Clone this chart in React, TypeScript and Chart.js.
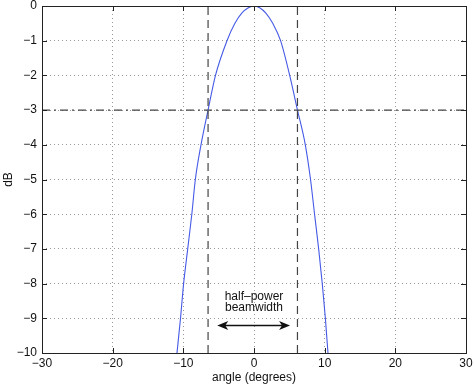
import React, { useEffect, useRef } from "react";
import { Chart, registerables } from "chart.js";

Chart.register(...registerables);

// Beam pattern (angle in degrees, gain in dB)
const curveAngles = [-11.15, -10.9, -10.4, -9.96, -9.38, -8.8, -8.3, -7.5, -6.5, -5.45, -3.82, -2.7, -1.7, -0.8, 0, 0.8, 1.65, 2.65, 3.76, 5.05, 6.15, 7.26, 8.0, 8.57, 9.15, 9.66, 10.1, 10.47, 10.7];
const curveDb = [-10.5, -10, -9, -8, -7, -6, -5, -4, -3, -2, -1, -0.5, -0.2, -0.05, 0, -0.05, -0.2, -0.5, -1, -2, -3, -4, -5, -6, -7, -8, -9, -10, -10.5];

// Half-power markers
const halfPowerAngles = [-6.5, 6.15];
const halfPowerDb = -3;

// Axis ranges / ticks
const xTicks = [-30, -20, -10, 0, 10, 20, 30];
const yTicks = [0, -1, -2, -3, -4, -5, -6, -7, -8, -9, -10];

// Annotation
const annotationLines = ["half\u2013power", "beamwidth"];
const annotationAngle = 0;
const annotationDb = [-8.37, -8.7];
const arrowAngles = [-5.2, 5.1];
const arrowDb = -9.2;

const xTitle = "angle (degrees)";
const yTitle = "dB";

const fmt = (v: number) => (v < 0 ? "\u2212" + Math.abs(v) : String(v));

export default function App() {
  const ref = useRef<HTMLCanvasElement | null>(null);
  useEffect(() => {
    document.body.style.margin = "0";
    const canvas = ref.current!;
    const font = "Liberation Sans, Arial, Helvetica, sans-serif";

    const framePlugin = {
      id: "frame",
      afterDraw(chart: any) {
        const ctx = chart.ctx as CanvasRenderingContext2D;
        const { left, right, top, bottom } = chart.chartArea;
        const xs = chart.scales.x;
        const ys = chart.scales.y;
        ctx.save();
        ctx.strokeStyle = "#222";
        ctx.lineWidth = 1;
        ctx.setLineDash([]);
        ctx.strokeRect(Math.round(left) + 0.5, Math.round(top) + 0.5, Math.round(right - left), Math.round(bottom - top));
        const tl = 5;
        ctx.beginPath();
        xTicks.forEach((v) => {
          const px = Math.round(xs.getPixelForValue(v)) + 0.5;
          ctx.moveTo(px, bottom);
          ctx.lineTo(px, bottom - tl);
          ctx.moveTo(px, top);
          ctx.lineTo(px, top + tl);
        });
        yTicks.forEach((v) => {
          const py = Math.round(ys.getPixelForValue(v)) + 0.5;
          ctx.moveTo(left, py);
          ctx.lineTo(left + tl, py);
          ctx.moveTo(right, py);
          ctx.lineTo(right - tl, py);
        });
        ctx.stroke();

        // axis titles
        ctx.fillStyle = "#111";
        ctx.font = "12px " + font;
        ctx.textAlign = "center";
        ctx.textBaseline = "middle";
        ctx.fillText(xTitle, (left + right) / 2, 378);
        ctx.save();
        ctx.translate(9, (top + bottom) / 2);
        ctx.rotate(-Math.PI / 2);
        ctx.fillText(yTitle, 0, 0);
        ctx.restore();

        // annotation
        const ax = xs.getPixelForValue(annotationAngle);
        annotationLines.forEach((t, i) => {
          ctx.fillText(t, ax, ys.getPixelForValue(annotationDb[i]));
        });
        const x1 = xs.getPixelForValue(arrowAngles[0]);
        const x2 = xs.getPixelForValue(arrowAngles[1]);
        const ay = Math.round(ys.getPixelForValue(arrowDb)) + 0.5;
        ctx.strokeStyle = "#111";
        ctx.lineWidth = 1.3;
        ctx.beginPath();
        ctx.moveTo(x1 + 4, ay);
        ctx.lineTo(x2 - 4, ay);
        ctx.stroke();
        ctx.fillStyle = "#111";
        const head = (tip: number, dir: number) => {
          ctx.beginPath();
          ctx.moveTo(tip, ay);
          ctx.lineTo(tip - dir * 11, ay - 4.5);
          ctx.lineTo(tip - dir * 8, ay);
          ctx.lineTo(tip - dir * 11, ay + 4.5);
          ctx.closePath();
          ctx.fill();
        };
        head(x1, -1);
        head(x2, 1);
        ctx.restore();
      },
    };

    const curve = curveAngles.map((a, i) => ({ x: a, y: curveDb[i] }));
    const vLines = halfPowerAngles.map((a) => ({
      type: "line" as const,
      data: [
        { x: a, y: yTicks[yTicks.length - 1] },
        { x: a, y: yTicks[0] },
      ],
      borderColor: "#444",
      borderWidth: 1.2,
      borderDash: [8, 5],
      pointRadius: 0,
      fill: false,
    }));

    const chart = new Chart(canvas, {
      type: "line",
      data: {
        datasets: [
          {
            data: [
              { x: xTicks[0], y: halfPowerDb },
              { x: xTicks[xTicks.length - 1], y: halfPowerDb },
            ],
            borderColor: "#444",
            borderWidth: 1.2,
            borderDash: [8, 4, 2, 4],
            pointRadius: 0,
          },
          ...vLines,
          {
            data: curve,
            borderColor: "rgb(70,90,230)",
            borderWidth: 1.1,
            pointRadius: 0,
            cubicInterpolationMode: "monotone",
          },
        ],
      },
      options: {
        animation: false,
        responsive: false,
        devicePixelRatio: 1,
        layout: { padding: { top: 6, right: 8, left: 0, bottom: 0 } },
        plugins: { legend: { display: false }, tooltip: { enabled: false } },
        scales: {
          x: {
            type: "linear",
            min: -30,
            max: 30,
            afterBuildTicks: (s: any) => {
              s.ticks = xTicks.map((v) => ({ value: v }));
            },
            afterFit: (s: any) => {
              s.height = 33;
              s.paddingLeft = 0;
              s.paddingRight = 0;
            },
            ticks: {
              color: "#111",
              font: { family: font, size: 12 },
              padding: 3,
              maxRotation: 0,
              autoSkip: false,
              callback: (v: any) => fmt(Number(v)),
            },
            grid: { color: "#9a9a9a", lineWidth: 1, drawTicks: false },
            border: { display: false, dash: [1, 3] },
          },
          y: {
            type: "linear",
            min: -10,
            max: 0,
            afterBuildTicks: (s: any) => {
              s.ticks = yTicks.map((v) => ({ value: v }));
            },
            afterFit: (s: any) => {
              s.width = 42;
              s.paddingTop = 0;
              s.paddingBottom = 0;
            },
            ticks: {
              color: "#111",
              font: { family: font, size: 12 },
              padding: 5,
              autoSkip: false,
              callback: (v: any) => fmt(Number(v)),
            },
            grid: { color: "#9a9a9a", lineWidth: 1, drawTicks: false },
            border: { display: false, dash: [1, 3] },
          },
        },
      },
      plugins: [framePlugin],
    } as any);
    return () => chart.destroy();
  }, []);
  return <canvas ref={ref} width={474} height={386} style={{ width: 474, height: 386, display: "block" }} />;
}
